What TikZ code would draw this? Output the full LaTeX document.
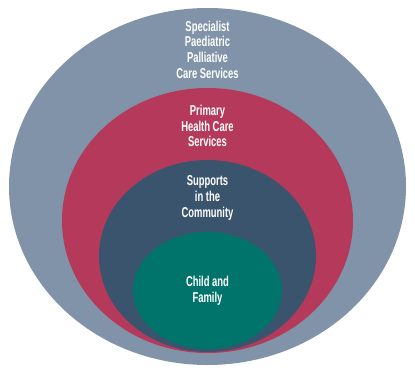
\documentclass[tikz,border=0pt]{standalone}
\usepackage{fontspec}
\setmainfont{Liberation Sans}[FakeStretch=0.66]
\usepackage{xcolor}
\usepackage{tikz}
\usetikzlibrary{shapes.geometric}

\definecolor{ringgrey}{RGB}{128,147,168}
\definecolor{ringred}{RGB}{181,57,90}
\definecolor{ringnavy}{RGB}{59,84,110}
\definecolor{ringteal}{RGB}{0,115,107}

\begin{document}
\begin{tikzpicture}[
      x=1pt, y=-1pt,
      ring/.style={ellipse, draw=none, inner sep=0pt},
      lbl/.style={text=white, align=center, font=\fontsize{14.3}{15.6}\selectfont\bfseries}
  ]
  \useasboundingbox (0,0) rectangle (415,372);
  % Rings
  \node[ring, fill=ringgrey, minimum width=397pt, minimum height=357pt] (specialist) at (207.5,186.5) {};
  \node[ring, fill=ringred, minimum width=291pt, minimum height=265pt] (primary) at (207.5,220.5) {};
  \node[ring, fill=ringnavy, minimum width=217pt, minimum height=192pt] (community) at (207.5,256) {};
  \node[ring, fill=ringteal, minimum width=149pt, minimum height=117pt] (family) at (207.5,290.5) {};
  % Labels
  \node[lbl] (specialisttext) at (207.5,49.5) {Specialist\\Paediatric\\Palliative\\Care Services};
  \node[lbl] (primarytext) at (207.5,126) {Primary\\Health Care\\Services};
  \node[lbl] (communitytext) at (207.5,198) {Supports\\in the\\Community};
  \node[lbl] (familytext) at (207.5,290.5) {Child and\\Family};
\end{tikzpicture}
\end{document}
